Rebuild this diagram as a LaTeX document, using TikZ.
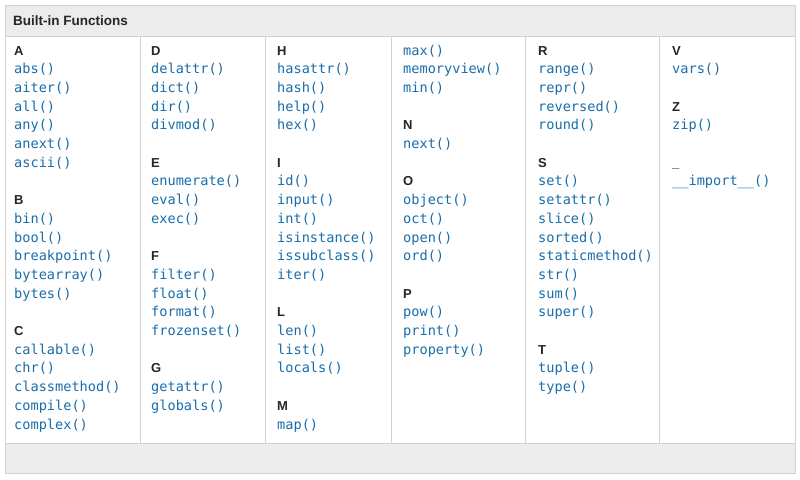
\documentclass[tikz,border=0pt]{standalone}
\usepackage{fontspec}
\setmainfont{Liberation Sans}
\newfontfamily\codefont{DejaVu Sans Mono}
\definecolor{band}{RGB}{236,236,236}
\definecolor{ruleclr}{RGB}{210,210,210}
\definecolor{fnblue}{RGB}{25,110,170}
\begin{document}
\begin{tikzpicture}[x=1pt,y=-1pt,
  letter/.style={anchor=base west,inner sep=0pt,font=\fontsize{13}{13}\selectfont\bfseries,text=black!85},
  fn/.style={anchor=base west,inner sep=0pt,font=\fontsize{13.6}{13.6}\codefont,text=fnblue},
  rule/.style={draw=ruleclr,line width=1pt}]
\useasboundingbox (0,0) rectangle (800,479);
\fill[white] (0,0) rectangle (800,479);
\fill[band] (5,5) rectangle (795,36);
\fill[band] (5,443) rectangle (795,473);
\draw[rule] (5,5) rectangle (795,473);
\draw[rule] (5,36) -- (795,36);
\draw[rule] (5,443) -- (795,443);
\foreach \x in {140,265,391,525,659} \draw[rule] (\x,36) -- (\x,443);
\node[letter,font=\fontsize{13.5}{13.5}\selectfont\bfseries] (title) at (13,25) {Built-in Functions};
\def\ly#1{55+18.7*(#1-1)}
% column 1
\foreach \l/\t in {1/A,9/B,16/C} \node[letter] (c1-\l) at (14,{\ly{\l}}) {\t};
\foreach \l/\t in {2/abs(),3/aiter(),4/all(),5/any(),6/anext(),7/ascii(),10/bin(),11/bool(),12/breakpoint(),13/bytearray(),14/bytes(),17/callable(),18/chr(),19/classmethod(),20/compile(),21/complex()}
  \node[fn] (c1-\l) at (14,{\ly{\l}}) {\t};
% column 2
\foreach \l/\t in {1/D,7/E,12/F,18/G} \node[letter] (c2-\l) at (151,{\ly{\l}}) {\t};
\foreach \l/\t in {2/delattr(),3/dict(),4/dir(),5/divmod(),8/enumerate(),9/eval(),10/exec(),13/filter(),14/float(),15/format(),16/frozenset(),19/getattr(),20/globals()}
  \node[fn] (c2-\l) at (151,{\ly{\l}}) {\t};
% column 3
\foreach \l/\t in {1/H,7/I,15/L,20/M} \node[letter] (c3-\l) at (277,{\ly{\l}}) {\t};
\foreach \l/\t in {2/hasattr(),3/hash(),4/help(),5/hex(),8/id(),9/input(),10/int(),11/isinstance(),12/issubclass(),13/iter(),16/len(),17/list(),18/locals(),21/map()}
  \node[fn] (c3-\l) at (277,{\ly{\l}}) {\t};
% column 4
\foreach \l/\t in {5/N,8/O,14/P} \node[letter] (c4-\l) at (403,{\ly{\l}}) {\t};
\foreach \l/\t in {1/max(),2/memoryview(),3/min(),6/next(),9/object(),10/oct(),11/open(),12/ord(),15/pow(),16/print(),17/property()}
  \node[fn] (c4-\l) at (403,{\ly{\l}}) {\t};
% column 5
\foreach \l/\t in {1/R,7/S,17/T} \node[letter] (c5-\l) at (538,{\ly{\l}}) {\t};
\foreach \l/\t in {2/range(),3/repr(),4/reversed(),5/round(),8/set(),9/setattr(),10/slice(),11/sorted(),12/staticmethod(),13/str(),14/sum(),15/super(),18/tuple(),19/type()}
  \node[fn] (c5-\l) at (538,{\ly{\l}}) {\t};
% column 6
\foreach \l/\t in {1/V,4/Z,7/\_} \node[letter] (c6-\l) at (672,{\ly{\l}}) {\t};
\foreach \l/\t in {2/vars(),5/zip(),8/\_\_import\_\_()}
  \node[fn] (c6-\l) at (672,{\ly{\l}}) {\t};
\end{tikzpicture}
\end{document}
